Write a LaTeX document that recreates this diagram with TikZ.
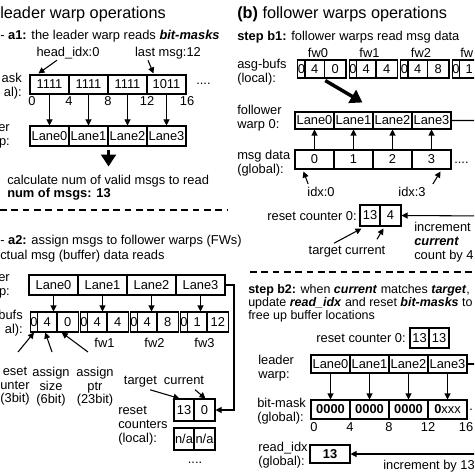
\documentclass[tikz,border=0pt]{standalone}
\usepackage{fontspec}
\setmainfont{Liberation Sans}
\usetikzlibrary{arrows.meta,calc}
\newcommand\mkcell[6]{\node[cell,minimum width={(#4-(#2))*0.75pt},minimum height={(#5-(#3))*0.75pt}] (#1) at ({(#2+#4)/2},{(#3+#5)/2}) {#6};}
\newcommand\mkgroup[7]{%
 \mkcell{#1a}{#2}{#3}{#2+7}{#4}{#5}%
 \mkcell{#1b}{#2+7}{#3}{#2+26.5}{#4}{#6}%
 \mkcell{#1c}{#2+26.5}{#3}{#2+48}{#4}{#7}}
\begin{document}
\begin{tikzpicture}[x=0.75pt,y=-0.75pt,
  fs/.style={font=\fontsize{9.65}{10.6}\selectfont},
  fsn/.style={font=\fontsize{9.35}{10.6}\selectfont},
  fsb/.style={font=\fontsize{9.65}{10.1}\selectfont},
  title/.style={font=\fontsize{12.2}{13}\selectfont,inner sep=0pt},
  lbl/.style={fs,inner sep=0pt,align=left},
  nlbl/.style={fsn,inner sep=0pt,align=left},
  rlbl/.style={fs,inner sep=0pt,align=right},
  clbl/.style={fsb,inner sep=0pt,align=center},
  cell/.style={draw,line width=0.8pt,inner sep=0pt,fs},
  arr/.style={-{Triangle[length=4.5pt,width=4.5pt]},line width=0.8pt},
  bigarr/.style={-{Triangle[length=9pt,width=11pt]},line width=2.6pt},
  dsh/.style={line width=1.2pt,dash pattern=on 5pt off 3.5pt},
  conn/.style={line width=0.8pt}]
\useasboundingbox (0,0) rectangle (474,474);
\fill[white] (0,0) rectangle (474,474);
\clip (0,0) rectangle (474,474);

% ================= (a) =================
\node[title,anchor=west] (ta) at (0,14) {leader warp operations};
\node[lbl,anchor=west] (sa1) at (0,36) {- \textbf{a1:} the leader warp reads \textbf{\textit{bit-masks}}};
\node[lbl] (hidx) at (68,53) {head\_idx:0};
\node[lbl] (lmsg) at (168,53) {last msg:12};
\node[rlbl,anchor=east] (a1bml) at (22,86) {ask\\al):};
\mkcell{a1m0}{30}{75}{69}{94}{1111}
\mkcell{a1m1}{69}{75}{108}{94}{1111}
\mkcell{a1m2}{108}{75}{147}{94}{1111}
\mkcell{a1m3}{147}{75}{186}{94}{1011}
\node[lbl,anchor=west] (a1dots) at (196,84) {....};
\node[lbl] (a1n0) at (32,101) {0};
\node[lbl] (a1n1) at (69,101) {4};
\node[lbl] (a1n2) at (108,101) {8};
\node[lbl] (a1n3) at (147,101) {12};
\node[lbl] (a1n4) at (187,101) {16};
\draw[arr] ($(hidx.south)+(-11,1)$) -- ($(a1m0.north west)+(9,-1)$);
\draw[arr] ($(lmsg.south)+(-20,1)$) -- ($(a1m3.north west)+(7,-1)$);
\node[rlbl,anchor=east] (a1lwl) at (10,136) {er\\p:};
\mkcell{a1l0}{30}{126}{69}{146}{Lane0}
\mkcell{a1l1}{69}{126}{108}{146}{Lane1}
\mkcell{a1l2}{108}{126}{147}{146}{Lane2}
\mkcell{a1l3}{147}{126}{186}{146}{Lane3}
\foreach \i in {0,...,3}{\draw[arr] (a1m\i.south) -- (a1l\i.north);}
\node[lbl,anchor=west] (calcA) at (7,181) {calculate num of valid msgs to read};
\node[lbl,anchor=west] (nummsg) at (7,194) {\textbf{num of msgs: 13}};
\draw[bigarr] ($(a1l1.south east)+(0,3)$) -- ($(a1l1.south east)+(0,20)$);
\draw[dsh] (0,210) -- (228,210);

\node[lbl,anchor=west] (sa2) at (0,241) {- \textbf{a2:} assign msgs to follower warps (FWs)};
\node[lbl,anchor=west] (sa2b) at (0,256) {ctual msg (buffer) data reads};
\node[rlbl,anchor=east] (a2lwl) at (10,286) {er\\p:};
\mkcell{a2l0}{29}{275}{78}{295}{Lane0}
\mkcell{a2l1}{78}{275}{127}{295}{Lane1}
\mkcell{a2l2}{127}{275}{176}{295}{Lane2}
\mkcell{a2l3}{176}{275}{225}{295}{Lane3}
\node[rlbl,anchor=east] (a2abl) at (23,323) {bufs\\al):};
\mkgroup{a2g0}{30.5}{312}{332}{0}{4}{0}
\mkgroup{a2g1}{80.5}{312}{332}{0}{4}{4}
\mkgroup{a2g2}{130.5}{312}{332}{0}{4}{8}
\mkgroup{a2g3}{180.5}{312}{332}{0}{1}{12}
\foreach \i in {0,...,3}{\draw[arr] (a2l\i.south) -- (a2l\i.south |- a2g\i b.north);}
\node[lbl] (fw1a) at (104.5,343) {fw1};
\node[lbl] (fw2a) at (154.5,343) {fw2};
\node[lbl] (fw3a) at (204.5,343) {fw3};
\node[clbl,anchor=north] (rcl) at (15,367) {eset\\unter\\(3bit)};
\node[clbl,anchor=north] (asl) at (51,367) {assign\\size\\(6bit)};
\node[clbl,anchor=north] (apl) at (95,367) {assign\\ptr\\(23bit)};
\draw[arr] (18,352) -- (a2g0a.south);
\draw[arr] (52,352) -- ($(a2g0b.south)+(-2,0)$);
\draw[arr] (88,352) -- ($(a2g0c.south)+(-6,0)$);
\node[lbl] (tca) at (164,382) {target\ \ current};
\mkcell{a2c0}{174}{399}{194}{421}{13}
\mkcell{a2c1}{194}{399}{215}{421}{0}
\mkcell{a2n0}{174}{428}{194}{450}{n/a}
\mkcell{a2n1}{194}{428}{215}{450}{n/a}
\draw[arr] ($(tca.south)+(-14,2)$) -- ($(a2c0.north west)+(6,0)$);
\draw[arr] ($(tca.south)+(31,2)$) -- ($(a2c1.north west)+(12,0)$);
\node[lbl,anchor=west] (rcnt) at (118,426) {reset\\counters\\(local):};
\node[lbl] (a2dots) at (195,463) {....};
\draw[arr] (a2l3.east) -- (234,285) -- (234,410) -- (a2c1.east);

% ================= (b) =================
\node[title,anchor=west] (tb) at (237,14) {\textbf{(b)} follower warps operations};
\node[lbl,anchor=west] (sb1) at (237,37) {\textbf{step b1:} follower warps read msg data};
\node[lbl,anchor=west] (b1abl) at (237,72) {asg-bufs\\(local):};
\mkgroup{b1g0}{298}{60}{78}{0}{4}{0}
\mkgroup{b1g1}{349.5}{60}{78}{0}{4}{4}
\mkgroup{b1g2}{401}{60}{78}{0}{4}{8}
\mkcell{b1g3a}{452.5}{60}{459.5}{78}{0}
\mkcell{b1g3b}{459.5}{60}{479}{78}{1}
\node[lbl] (fw0b) at (318,53) {fw0};
\node[lbl] (fw1b) at (369.5,53) {fw1};
\node[lbl] (fw2b) at (421,53) {fw2};
\node[lbl,anchor=west] (fw3b) at (460,53) {fw};
\node[lbl,anchor=west] (b1lwl) at (237,118) {follower\\warp 0:};
\mkcell{b1l0}{295}{112}{334}{129}{Lane0}
\mkcell{b1l1}{334}{112}{373}{129}{Lane1}
\mkcell{b1l2}{373}{112}{412}{129}{Lane2}
\mkcell{b1l3}{412}{112}{451}{129}{Lane3}
\draw[bigarr] ($(b1g0c.south)+(-10,2)$) -- ($(b1l1.north)+(9,-9)$);
\node[lbl,anchor=west] (b1mdl) at (237,163) {msg data\\(global):};
\mkcell{b1d0}{295}{150}{334}{169}{0}
\mkcell{b1d1}{334}{150}{373}{169}{1}
\mkcell{b1d2}{373}{150}{412}{169}{2}
\mkcell{b1d3}{412}{150}{451}{169}{3}
\foreach \i in {0,...,3}{\draw[arr] (b1d\i.north) -- (b1l\i.south);}
\node[lbl,anchor=west] (b1dots) at (454,163) {....};
\node[lbl] (idx0) at (321,192) {idx:0};
\node[lbl] (idx3) at (412,192) {idx:3};
\draw[arr] ($(idx0.north west)+(1,-3)$) -- ($(b1d0.south west)+(9,2)$);
\draw[arr] ($(idx3.north east)+(7,-3)$) -- ($(b1d3.south east)+(-11,2)$);
\node[lbl,anchor=east] (b1rcl) at (357,216) {reset counter 0:};
\mkcell{b1c0}{360}{205}{380}{226}{13}
\mkcell{b1c1}{380}{205}{401}{226}{4}
\node[lbl] (tcb) at (347,252) {target current};
\draw[arr] ($(tcb.north)+(-13,-3)$) -- ($(b1c0.south west)+(2,2)$);
\draw[arr] ($(tcb.north)+(30,-7)$) -- ($(b1c1.south west)+(4,2)$);
\node[lbl,anchor=west] (incb) at (414,242) {increment\\\textbf{\textit{current}}\\count by 4};
\draw[arr] (b1l3.east) -- (490,120.5) -- (490,216) -- (b1c1.east);
\draw[dsh] (250,272) -- (474,272);

\node[nlbl,anchor=west] (sb2) at (248,290) {\textbf{step b2:} when \textbf{\textit{current}} matches \textbf{\textit{target}},};
\node[nlbl,anchor=west] (sb2b) at (248,303) {update \textbf{\textit{read\_idx}} and reset \textbf{\textit{bit-masks}} to};
\node[nlbl,anchor=west] (sb2c) at (248,316) {free up buffer locations};
\node[lbl,anchor=east] (b2rcl) at (406,338) {reset counter 0:};
\mkcell{b2c0}{410}{328}{429}{348}{13}
\mkcell{b2c1}{429}{328}{449}{348}{13}
\node[lbl,anchor=west] (b2lwl) at (258,368) {leader\\warp:};
\mkcell{b2l0}{311}{355}{350}{373}{Lane0}
\mkcell{b2l1}{350}{355}{389}{373}{Lane1}
\mkcell{b2l2}{389}{355}{428}{373}{Lane2}
\mkcell{b2l3}{428}{355}{467}{373}{Lane3}
\node[lbl,anchor=west] (b2bml) at (257,411) {bit-mask\\(global):};
\mkcell{b2m0}{311}{400}{350}{419}{\textbf{0000}}
\mkcell{b2m1}{350}{400}{389}{419}{\textbf{0000}}
\mkcell{b2m2}{389}{400}{428}{419}{\textbf{0000}}
\mkcell{b2m3}{428}{400}{467}{419}{\textbf{0}xxx}
\foreach \i in {0,...,3}{\draw[arr] (b2l\i.south) -- (b2m\i.north);}
\node[lbl,anchor=west] (b2dots) at (469,410) {.};
\node[lbl] (b2n0) at (314,427) {0};
\node[lbl] (b2n1) at (350,427) {4};
\node[lbl] (b2n2) at (389,427) {8};
\node[lbl] (b2n3) at (428,427) {12};
\node[lbl] (b2n4) at (466,427) {16};
\draw[conn] (b2l3.east) -- (490,364);
\node[lbl,anchor=west] (b2ril) at (258,455) {read\_idx\\(global):};
\mkcell{b2r}{310}{445}{350}{463}{\textbf{13}}
\draw[arr] (490,454) -- (b2r.east);
\node[lbl,anchor=west] (incb2) at (383,466) {increment by 13};
\end{tikzpicture}
\end{document}
